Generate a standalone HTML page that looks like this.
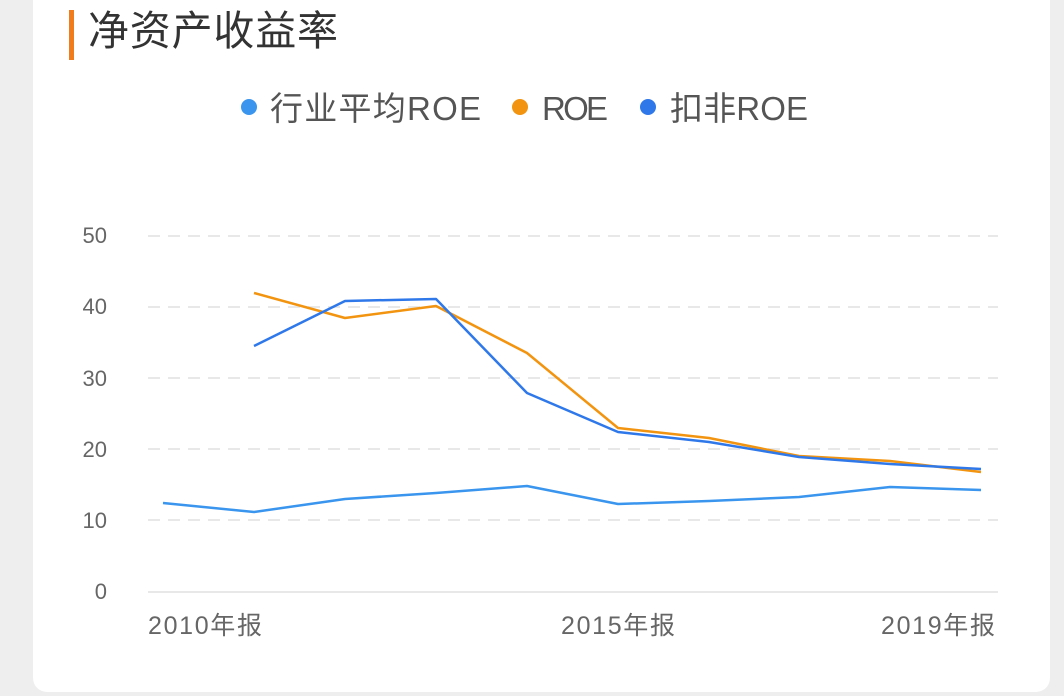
<!DOCTYPE html>
<html><head><meta charset="utf-8"><style>
body{margin:0;width:1064px;height:696px;background:#eeeeee;overflow:hidden;font-family:"Liberation Sans","Noto Sans CJK SC",sans-serif}
.card{position:absolute;left:33px;top:-20px;width:1017px;height:712px;background:#fff;border-radius:14px}
</style></head><body>
<div class="card"></div>
<svg width="1064" height="696" style="position:absolute;left:0;top:0" font-family="Liberation Sans, Noto Sans CJK SC, sans-serif">
<rect x="69" y="10" width="5" height="50" fill="#f07c1c"/>
<text x="88" y="45" font-size="41" fill="#333" textLength="250">净资产收益率</text>
<circle cx="249" cy="107" r="8" fill="#3a95ee"/>
<text x="270" y="120" font-size="33" fill="#555" textLength="211">行业平均ROE</text>
<circle cx="520" cy="107" r="8" fill="#f2940f"/>
<text x="542" y="120" font-size="33" fill="#555" textLength="66">ROE</text>
<circle cx="648" cy="107" r="8" fill="#2f78ea"/>
<text x="670" y="120" font-size="33" fill="#555" textLength="138">扣非ROE</text>
<g stroke="#e8e8e8" stroke-width="2" stroke-dasharray="12,8">
<line x1="148" y1="236" x2="998" y2="236"/><line x1="148" y1="307" x2="998" y2="307"/>
<line x1="148" y1="378" x2="998" y2="378"/><line x1="148" y1="449" x2="998" y2="449"/>
<line x1="148" y1="520" x2="998" y2="520"/></g>
<line x1="148" y1="592" x2="998" y2="592" stroke="#e8e8e8" stroke-width="2"/>
<g font-size="22" fill="#666" text-anchor="end">
<text x="107" y="243">50</text><text x="107" y="314">40</text><text x="107" y="386">30</text>
<text x="107" y="457">20</text><text x="107" y="528">10</text><text x="107" y="599">0</text></g>
<g font-size="25" fill="#666">
<text x="148" y="634" textLength="114">2010年报</text><text x="561" y="634" textLength="114">2015年报</text><text x="881" y="634" textLength="114">2019年报</text></g>
<g fill="none" stroke-width="2.5" stroke-linejoin="round">
<polyline stroke="#3a95ee" points="163,503 254,512 345,499 436,493 527,486 618,504 709,501 799,497 890,487 981,490"/>
<polyline stroke="#f2940f" points="254,293 345,318 436,306 527,353 618,428 709,438 799,456 890,461 981,472"/>
<polyline stroke="#2f78ea" points="254,346 345,301 436,299 527,393 618,432 709,442 799,457 890,464 981,469"/>
</g>
</svg>
</body></html>
